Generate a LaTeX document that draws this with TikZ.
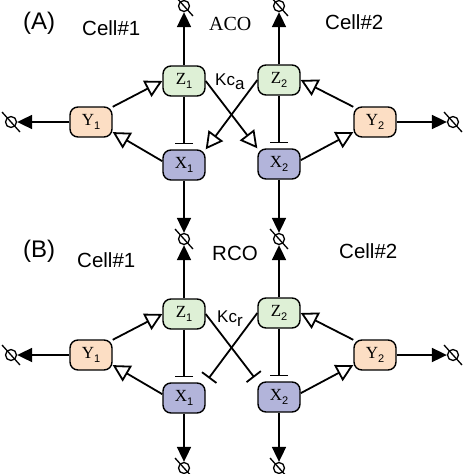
\documentclass[tikz,border=0pt]{standalone}
\usepackage{fontspec}
\setmainfont{Liberation Serif}
\setsansfont{Liberation Sans}
\usetikzlibrary{arrows.meta}
\definecolor{zfill}{RGB}{222,240,214}
\definecolor{yfill}{RGB}{252,222,196}
\definecolor{xfill}{RGB}{178,180,218}
\newcommand\nsub[1]{\raisebox{-3.5pt}{\sffamily\fontsize{11}{11}\selectfont#1}}
\newcommand\drawpanel[3]{%
\begin{scope}[yshift=-#2pt]
 \node[zbox] (z1#1) at (184,81) {Z\nsub{1}};
 \node[zbox] (z2#1) at (279,80) {Z\nsub{2}};
 \node[ybox] (y1#1) at (91,122) {Y\nsub{1}};
 \node[ybox] (y2#1) at (375,122) {Y\nsub{2}};
 \node[xbox] (x1#1) at (184,165) {X\nsub{1}};
 \node[xbox] (x2#1) at (279,164) {X\nsub{2}};
\end{scope}
 \draw[act] (y1#1.35) -- (z1#1.west);
 \draw[act] (x1#1.170) -- (y1#1.-25);
 \draw[act] (y2#1.145) -- (z2#1.east);
 \draw[act] (x2#1.10) -- (y2#1.205);
 \draw[inh] (z1#1.south) -- (x1#1.north);
 \draw[inh] (z2#1.south) -- (x2#1.north);
 \draw[#3] (z1#1.east) -- (x2#1.north west);
 \draw[#3] (z2#1.west) -- (x1#1.north east);
}
\begin{document}
\begin{tikzpicture}[x=1pt,y=-1pt,
 box/.style={draw, line width=1.4pt, rounded corners=8pt, minimum width=42pt, minimum height=30pt, inner sep=0pt, font=\fontsize{17}{17}\selectfont},
 zbox/.style={box, fill=zfill},
 ybox/.style={box, fill=yfill},
 xbox/.style={box, fill=xfill},
 conn/.style={line width=1.8pt},
 act/.style={conn, -{Triangle[open, length=17pt, width=18pt, fill=white]}},
 inh/.style={conn, -{Bar[width=18pt]}, shorten >=5pt},
 outarr/.style={conn, -{Triangle[length=15pt, width=14pt]}},
 sink/.style={circle, draw, line width=1.3pt, minimum size=11pt, inner sep=0pt},
 lbl/.style={anchor=base west, inner sep=0pt, font=\sffamily\fontsize{20.5}{20.5}\selectfont},
 panel/.style={anchor=base west, inner sep=0pt, font=\sffamily\fontsize{24}{24}\selectfont},
 kc/.style={anchor=base west, inner sep=0pt, font=\sffamily\fontsize{17}{17}\selectfont}
]
\useasboundingbox (0,0) rectangle (474,474);
\drawpanel{a}{0}{act}
\drawpanel{b}{233}{inh}
% sinks
\node[sink] (sa1) at (184,6) {};
\node[sink] (sa2) at (279,6) {};
\node[sink] (sya1) at (11,122) {};
\node[sink] (sya2) at (453,122) {};
\node[sink] (sm1) at (184,239) {};
\node[sink] (sm2) at (279,239) {};
\node[sink] (syb1) at (11,355) {};
\node[sink] (syb2) at (453,355) {};
\node[sink] (sb1) at (184,468) {};
\node[sink] (sb2) at (279,468) {};
\foreach \s in {sa1,sa2,sya1,sya2,sm1,sm2,syb1,syb2,sb1,sb2}
 \draw[line width=1.3pt] ([shift={(-9,-10)}]\s.center) -- ([shift={(9,10)}]\s.center);
\draw[outarr] (z1a) -- (sa1);
\draw[outarr] (z2a) -- (sa2);
\draw[outarr] (y1a) -- (sya1);
\draw[outarr] (y2a) -- (sya2);
\draw[outarr] (x1a) -- (sm1);
\draw[outarr] (x2a) -- (sm2);
\draw[outarr] (z1b) -- (sm1);
\draw[outarr] (z2b) -- (sm2);
\draw[outarr] (y1b) -- (syb1);
\draw[outarr] (y2b) -- (syb2);
\draw[outarr] (x1b) -- (sb1);
\draw[outarr] (x2b) -- (sb2);
% labels
\node[panel] (la) at (23,29) {(A)};
\node[lbl] (c1a) at (82,35) {Cell\#1};
\node[anchor=base west, inner sep=0pt, font=\fontsize{20}{20}\selectfont] (aco) at (209,30) {ACO};
\node[lbl] (c2a) at (325,29) {Cell\#2};
\node[kc] (kca) at (215,85) {Kc\raisebox{-4pt}{a}};
\node[panel] (lb) at (23,257) {(B)};
\node[lbl] (c1b) at (77,267) {Cell\#1};
\node[lbl] (rco) at (212,260) {RCO};
\node[lbl] (c2b) at (339,258) {Cell\#2};
\node[kc] (kcb) at (217,322) {Kc\raisebox{-4pt}{r}};
\end{tikzpicture}
\end{document}
